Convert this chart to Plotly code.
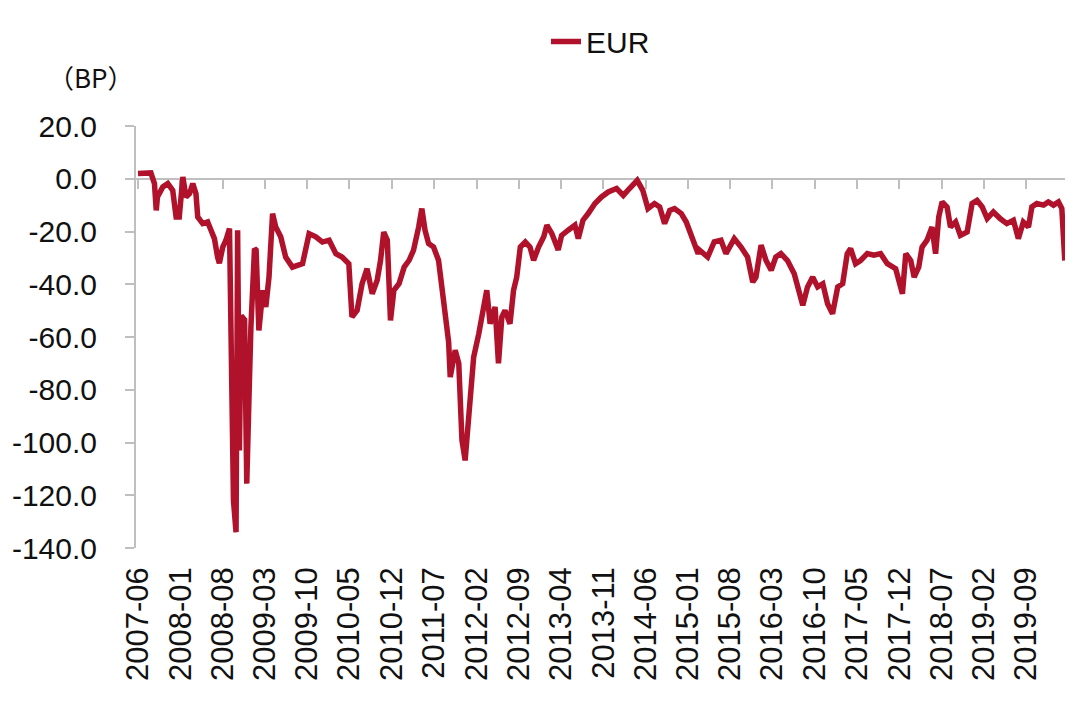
import plotly.graph_objects as go
import pandas as pd

dates = [
    "2007-06-01","2007-08-05","2007-08-23","2007-09-01","2007-09-07","2007-10-04","2007-10-29","2007-11-23",
    "2007-12-10","2007-12-26","2008-01-13","2008-01-29","2008-02-16","2008-03-03","2008-03-19","2008-03-28",
    "2008-04-22","2008-05-17","2008-06-03","2008-06-20","2008-07-06","2008-07-15","2008-08-01","2008-08-17",
    "2008-09-04","2008-09-12","2008-09-24","2008-10-07","2008-10-15","2008-10-24","2008-11-02","2008-11-19",
    "2008-11-30","2008-12-13","2008-12-21","2009-01-08","2009-01-16","2009-01-30","2009-02-19","2009-03-06",
    "2009-03-22","2009-04-09","2009-04-25","2009-05-20","2009-06-14","2009-07-18","2009-09-07","2009-10-10",
    "2009-11-13","2009-12-16","2010-01-19","2010-02-22","2010-03-25","2010-04-28","2010-05-14","2010-06-09",
    "2010-07-04","2010-07-29","2010-08-24","2010-09-18","2010-10-05","2010-10-21","2010-11-08","2010-11-24",
    "2010-12-11","2011-01-06","2011-02-01","2011-02-26","2011-03-20","2011-04-15","2011-05-01","2011-05-17",
    "2011-06-04","2011-06-29","2011-07-24","2011-08-18","2011-09-13","2011-09-21","2011-10-16","2011-11-03",
    "2011-11-19","2011-12-05","2011-12-22","2012-01-01","2012-01-17","2012-02-12","2012-03-06","2012-03-23",
    "2012-04-09","2012-05-04","2012-05-21","2012-06-07","2012-06-23","2012-07-18","2012-08-05","2012-08-21",
    "2012-09-08","2012-10-03","2012-10-27","2012-11-14","2012-12-09","2013-01-04","2013-01-20","2013-02-14",
    "2013-03-18","2013-04-04","2013-05-07","2013-06-10","2013-06-27","2013-07-21","2013-08-16","2013-09-19",
    "2013-10-22","2013-11-25","2014-01-06","2014-02-09","2014-03-12","2014-04-20","2014-05-18","2014-06-13",
    "2014-07-16","2014-08-11","2014-09-05","2014-10-01","2014-10-25","2014-11-28","2014-12-23","2015-01-18",
    "2015-02-21","2015-02-27","2015-04-10","2015-05-13","2015-06-16","2015-07-11","2015-08-22","2015-09-25",
    "2015-10-28","2015-11-23","2015-12-09","2016-01-04","2016-01-29","2016-02-24","2016-03-18","2016-04-13",
    "2016-05-16","2016-06-19","2016-07-14","2016-08-01","2016-08-25","2016-09-20","2016-10-15","2016-11-10",
    "2016-12-04","2016-12-29","2017-01-24","2017-02-18","2017-03-13","2017-03-30","2017-04-24","2017-05-19",
    "2017-06-22","2017-07-25","2017-08-28","2017-10-01","2017-11-12","2017-12-16","2018-01-02","2018-01-27",
    "2018-02-13","2018-03-08","2018-03-25","2018-04-19","2018-05-14","2018-06-01","2018-06-17","2018-07-04",
    "2018-07-29","2018-08-15","2018-09-10","2018-10-04","2018-11-07","2018-12-02","2018-12-27","2019-01-22",
    "2019-02-16","2019-03-19","2019-04-22","2019-05-26","2019-06-28","2019-07-23","2019-08-17","2019-09-12",
    "2019-09-29","2019-10-24","2019-11-27","2019-12-21","2020-01-16","2020-02-10","2020-02-27","2020-03-05",
    "2020-03-13",
]

eur = [
    2.0, 2.2, -1.8, -12.0, -6.9, -3.1, -1.8, -4.4,
    -14.5, -14.5, 0.7, -6.9, -5.6, -1.8, -5.6, -14.5,
    -17.0, -16.4, -19.5, -22.7, -29.7, -32.0, -25.9, -23.3,
    -18.9, -71.4, -122.0, -134.0, -19.5, -103.0, -52.0, -53.5,
    -115.6, -77.7, -56.0, -26.5, -27.0, -57.5, -42.3, -48.6,
    -37.3, -13.2, -18.3, -22.0, -29.7, -33.5, -32.2, -20.8,
    -22.0, -24.0, -23.3, -28.4, -29.7, -32.2, -52.4, -49.9,
    -39.8, -34.1, -43.6, -38.5, -30.9, -20.2, -23.3, -53.7,
    -42.3, -39.8, -33.5, -30.9, -27.1, -18.3, -11.3, -19.5,
    -24.6, -25.9, -30.9, -46.0, -62.0, -75.2, -65.0, -70.0,
    -99.0, -106.8, -92.9, -80.0, -67.6, -58.7, -49.9, -42.3,
    -55.0, -48.6, -70.0, -52.4, -49.9, -55.0, -42.3, -37.3,
    -25.9, -24.0, -25.9, -30.9, -25.9, -22.0, -17.6, -20.8,
    -27.0, -21.5, -19.5, -17.6, -22.7, -15.7, -13.2, -9.4,
    -6.9, -5.0, -3.7, -6.3, -3.7, -0.6, -4.4, -11.3,
    -9.4, -10.7, -17.0, -12.0, -11.3, -13.2, -16.4, -22.0,
    -28.4, -27.0, -29.7, -23.9, -23.3, -28.4, -22.7, -25.9,
    -29.7, -39.2, -37.3, -25.2, -31.0, -34.7, -29.7, -28.4,
    -31.0, -36.0, -43.6, -48.0, -41.0, -37.3, -41.0, -39.8,
    -47.4, -51.2, -41.0, -39.8, -28.4, -26.5, -32.2, -31.0,
    -28.4, -29.0, -28.4, -32.2, -34.1, -43.6, -28.4, -31.0,
    -37.3, -33.5, -25.9, -23.3, -18.3, -28.4, -14.5, -8.8,
    -10.7, -18.3, -16.4, -21.5, -20.2, -9.4, -8.2, -10.7,
    -15.1, -12.6, -15.1, -17.0, -15.7, -22.7, -16.4, -18.3,
    -10.7, -9.4, -10.0, -8.8, -10.0, -8.8, -11.3, -19.5,
    -31.0,
]

tick_dates = pd.date_range("2007-06-01", "2019-09-01", freq="7MS")
tick_text = [d.strftime("%Y-%m") for d in tick_dates]
y_ticks = [20, 0, -20, -40, -60, -80, -100, -120, -140]
y_tick_text = [f"{v:.1f}" for v in y_ticks]

x_range = ["2007-05-22", "2020-03-14"]
y_range = [-140, 20]

RED = "#B0122B"
GRAY = "#BFBFBF"
FONT = "Liberation Sans, Arial, sans-serif"

fig = go.Figure()
fig.add_trace(go.Scatter(
    x=pd.to_datetime(dates), y=eur, mode="lines", name="EUR",
    line=dict(color=RED, width=5.5), xaxis="x2", yaxis="y",
))
fig.add_trace(go.Scatter(x=[], y=[], mode="lines", showlegend=False, xaxis="x", yaxis="y"))

fig.update_layout(
    width=1080, height=716,
    margin=dict(l=133, r=15, t=126, b=168),
    paper_bgcolor="white", plot_bgcolor="white",
    font=dict(family=FONT, size=28, color="#111111"),
    showlegend=True,
    legend=dict(orientation="h", x=0.5, xanchor="center", y=1.262, yanchor="top",
                font=dict(size=30), bgcolor="rgba(0,0,0,0)"),
    xaxis=dict(
        type="date", range=x_range, tickvals=list(tick_dates), ticktext=tick_text,
        tickangle=-90, showgrid=False, showline=False, ticks="", zeroline=False,
        ticklabelstandoff=12, tickfont=dict(size=31),
    ),
    xaxis2=dict(
        type="date", range=x_range, overlaying="x", anchor="free", position=0.875,
        tickvals=list(tick_dates), showticklabels=False, ticks="outside", ticklen=9,
        tickwidth=2, tickcolor=GRAY, showline=True, linecolor=GRAY, linewidth=2,
        showgrid=False, zeroline=False, layer="below traces",
    ),
    yaxis=dict(
        range=y_range, tickvals=y_ticks, ticktext=y_tick_text, ticks="outside", ticklen=9,
        tickwidth=2, tickcolor=GRAY, showline=True, linecolor=GRAY, linewidth=2,
        showgrid=False, zeroline=False, ticklabelstandoff=22, tickfont=dict(size=30),
    ),
    annotations=[dict(
        text="（BP）", xref="paper", yref="paper", x=-0.097, y=1.118,
        xanchor="left", yanchor="middle", showarrow=False,
        font=dict(size=26, family="Noto Sans CJK SC, Liberation Sans"),
    )],
)

fig.write_html("out.html")
